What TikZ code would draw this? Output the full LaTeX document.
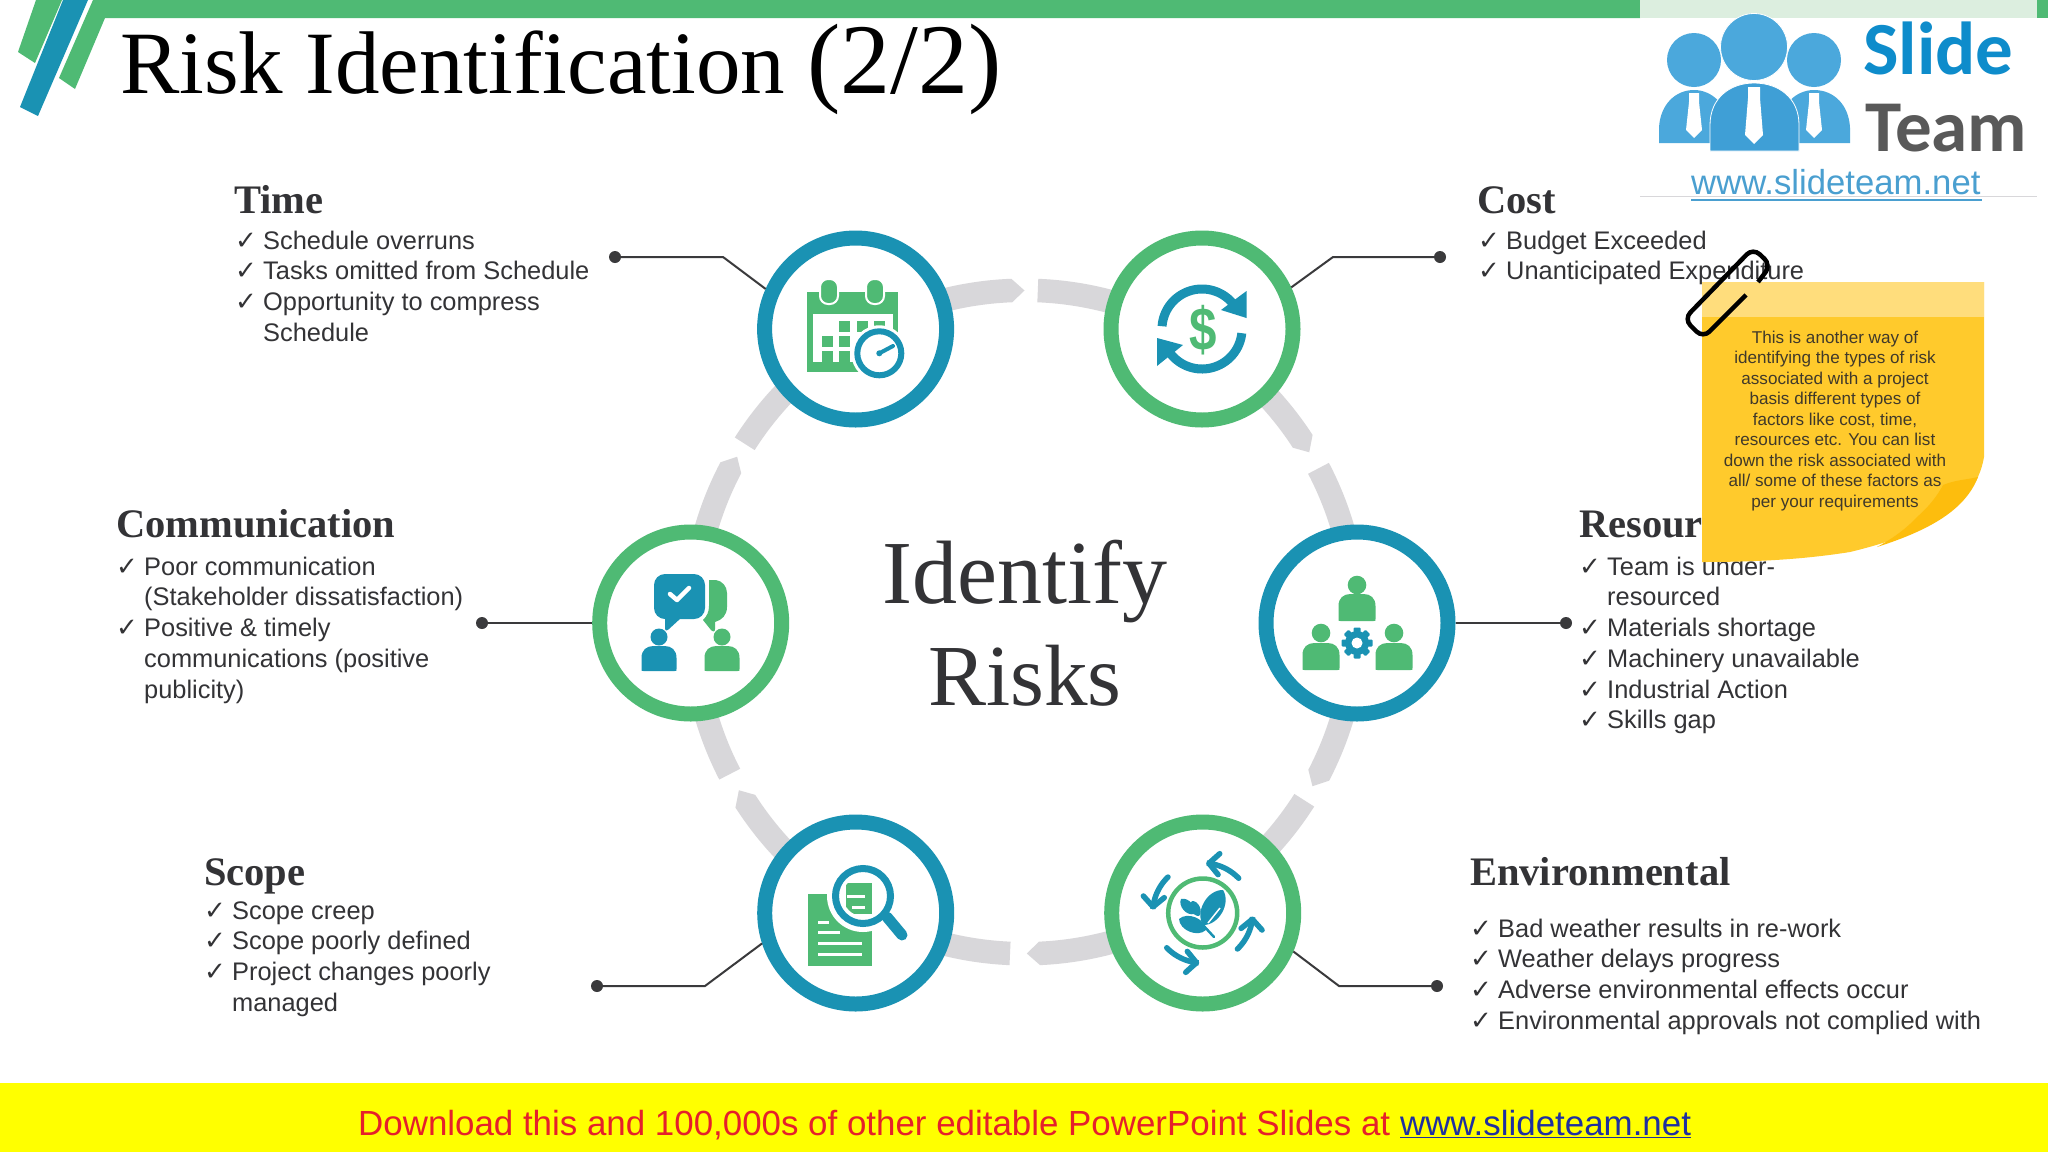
\documentclass[tikz,border=0pt]{standalone}
\usepackage{fontspec}
\setmainfont{Liberation Sans}
\newfontfamily\ser{Liberation Serif}
\newfontfamily\ckf{DejaVu Sans}
\newfontfamily\logof{Carlito}
\usetikzlibrary{arrows.meta,calc}
\definecolor{grn}{HTML}{4FBA74}
\definecolor{tea}{HTML}{1A92B3}
\definecolor{gry}{HTML}{D8D7DA}
\definecolor{txt}{HTML}{333336}
\definecolor{lnk}{HTML}{3A3A3C}
\definecolor{stk}{HTML}{FFCA2C}
\definecolor{stkl}{HTML}{FFDD7C}
\definecolor{stkd}{HTML}{FDBD0D}
\definecolor{stxt}{HTML}{40392A}
\definecolor{pale}{HTML}{DCEEDF}
\definecolor{lgb}{HTML}{4BA8DC}
\definecolor{lgc}{HTML}{3F9FD6}
\definecolor{lgu}{HTML}{4A9FD0}
\definecolor{lgs}{HTML}{0E8CCB}
\definecolor{ylw}{HTML}{FFFF00}
\definecolor{rdt}{HTML}{E5202B}
\definecolor{blt}{HTML}{1F2FA0}
\newcommand{\ck}{\makebox[28pt][l]{\rule{0pt}{22pt}{\ckf\fontsize{26}{26}\selectfont ✓}}}
\newcommand{\ind}{\hspace*{28pt}}
\newcommand{\arcplot}[5]{plot[domain=#4:#5,samples=60]({#1+#3*cos(\x)},{#2-#3*sin(\x)})}
% ring segment: flat start angle, tip angle
\newcommand{\ringseg}[2]{\pgfmathsetmacro{\shd}{#2+2.2}\fill[gry] plot[domain=#1:\shd,samples=60]({1024.5+343.5*cos(\x)},{622-343.5*sin(\x)}) -- ({1024.5+331.5*cos(#2)},{622-331.5*sin(#2)}) -- plot[domain=\shd:#1,samples=60]({1024.5+320*cos(\x)},{622-320*sin(\x)}) -- cycle;}
% person: centre x, head y, head r, body top, body bottom, half width, colour
\newcommand{\person}[7]{\fill[#7] (#1,#2) circle[radius=#3];
  \fill[#7] ({#1-#6+2},#5) .. controls ({#1-#6},#5) and ({#1-#6},#5) .. ({#1-#6},{#5-2}) -- ({#1-#6},{#4+12}) .. controls ({#1-#6},{#4+4}) and ({#1-#6+5},#4) .. ({#1-#6+12},#4) -- ({#1+#6-12},#4) .. controls ({#1+#6-5},#4) and ({#1+#6},{#4+4}) .. ({#1+#6},{#4+12}) -- ({#1+#6},{#5-2}) .. controls ({#1+#6},#5) and ({#1+#6},#5) .. ({#1+#6-2},#5) -- cycle;}
\newcommand{\leaflet}[3]{(#1) to[bend left=#3] (#2) to[bend left=#3] (#1)}
\tikzset{
  ringgrn/.style={circle,fill=white,draw=grn,line width=15pt,minimum size=182pt,inner sep=0pt,outer sep=7.5pt},
  ringtea/.style={circle,fill=white,draw=tea,line width=15pt,minimum size=182pt,inner sep=0pt,outer sep=7.5pt},
  hdg/.style={anchor=base west,inner sep=0pt,text=txt,font=\ser\bfseries\fontsize{40.5}{40.5}\selectfont},
  lst/.style={anchor=north west,inner sep=0pt,align=left,text=txt,font=\fontsize{25.4}{30.7}\selectfont},
  bigser/.style={anchor=base,inner sep=0pt,text=txt,font=\ser\fontsize{90}{90}\selectfont},
  dotn/.style={circle,fill=lnk,minimum size=12pt,inner sep=0pt,outer sep=0pt},
  conn/.style={draw=lnk,line width=2pt},
  notetxt/.style={anchor=north,inner sep=0pt,align=center,text=stxt,font=\fontsize{17.1}{20.5}\selectfont},
  logot/.style={anchor=base west,inner sep=0pt,font=\logof\bfseries\fontsize{73}{73}\selectfont},
}
\begin{document}
\begin{tikzpicture}[x=1pt,y=-1pt]
\path[use as bounding box] (0,0) rectangle (2048,1152);
\fill[white] (0,0) rectangle (2048,1152);
% header decoration
\fill[grn] (93,0) -- (59,78) -- (75,89) -- (105,18) -- (1640,18) -- (1640,0) -- cycle;
\fill[pale] (1640,0) rectangle (2037,18);
\fill[grn] (2037,0) rectangle (2048,18);
\fill[grn] (36,0) -- (62,0) -- (35,63) -- (18,52) -- cycle;
\fill[tea] (63,0) -- (88,0) -- (38,116) -- (20,107) -- cycle;
\node[anchor=base west,inner sep=0pt,text=black,font=\ser\fontsize{89}{89}\selectfont] (title) at (120,93) {Risk Identification {\fontsize{100}{100}\selectfont (2/2)}};
% logo
\draw[gry,line width=1pt] (1640,196) -- (2037,196);
\fill[lgb] (1694,60) circle[radius=27];
\fill[lgb] (1814,60) circle[radius=27];
\fill[lgb] (1659,143) -- (1659,128) .. controls (1660,105) and (1675,90) .. (1694,90) .. controls (1712,90) and (1728,105) .. (1730,128) -- (1730,143) -- cycle;
\fill[lgb] (1850,143) -- (1850,128) .. controls (1849,105) and (1834,90) .. (1814,90) .. controls (1796,90) and (1780,105) .. (1778,128) -- (1778,143) -- cycle;
\fill[lgb,draw=white,line width=.8pt] (1754,47) circle[radius=33.5];
\fill[lgc,draw=white,line width=.8pt] (1710,151) -- (1710,125) .. controls (1710,98) and (1730,83) .. (1754,83) .. controls (1779,83) and (1799,98) .. (1799,125) -- (1799,151) -- cycle;
\fill[white] (1748,87) -- (1760,87) -- (1760,98) -- (1763,135) -- (1754,144) -- (1745,135) -- (1748,98) -- cycle;
\fill[white] (1689,93) -- (1699,93) -- (1699,102) -- (1702,130) -- (1694,138) -- (1686,130) -- (1689,102) -- cycle;
\fill[white] (1809,93) -- (1819,93) -- (1819,102) -- (1822,130) -- (1814,138) -- (1806,130) -- (1809,102) -- cycle;
\node[logot,text=lgs,font=\logof\bfseries\fontsize{75}{75}\selectfont] (slide) at (1863,74) {Slide};
\node[logot,text=black!65] (team) at (1865,151) {Team};
\node[anchor=base west,inner sep=0pt,text=lgu,font=\fontsize{34.7}{34.7}\selectfont] (url) at (1691,194) {www.slideteam.net};
\draw[lgu,line width=2.4pt] (1691,200) -- (1982,200);
% ring
\ringseg{87.7}{30.8}
\ringseg{27.6}{-29.7}
\ringseg{-32.5}{-89.6}
\ringseg{-92.5}{-149.5}
\ringseg{-152.7}{-209.9}
\ringseg{147.5}{90}
% circles
\node[ringtea] (ctime) at (855.6,329) {};
\node[ringgrn] (ccost) at (1202,329) {};
\node[ringgrn] (ccomm) at (690.7,623) {};
\node[ringtea] (cres) at (1357,623) {};
\node[ringtea] (cscope) at (855.7,913) {};
\node[ringgrn] (cenv) at (1202.7,913) {};
% connectors
\node[dotn] (dtime) at (615,257) {};
\node[dotn] (dcost) at (1440,257) {};
\node[dotn] (dcomm) at (482,623) {};
\node[dotn] (dres) at (1566,623) {};
\node[dotn] (dscope) at (597,986) {};
\node[dotn] (denv) at (1437,986) {};
\coordinate (ktime) at (723,257);
\coordinate (kcost) at (1333,257);
\coordinate (kscope) at (705,986);
\coordinate (kenv) at (1339,986);
\draw[conn] (dtime) -- (ktime) -- (ctime.156);
\draw[conn] (dcost) -- (kcost) -- (ccost.25);
\draw[conn] (dcomm) -- (ccomm);
\draw[conn] (dres) -- (cres);
\draw[conn] (dscope) -- (kscope) -- (cscope.198);
\draw[conn] (denv) -- (kenv) -- (cenv.-23);
% centre
\node[bigser] (id1) at (1025,603) {Identify};
\node[bigser,font=\ser\fontsize{87}{87}\selectfont] (id2) at (1025,705) {Risks};
% texts
\node[hdg] (htime) at (234,213) {Time};
\node[lst] (ltime) at (235,227) {\ck Schedule overruns\\\ck Tasks omitted from Schedule\\\ck Opportunity to compress\\\ind Schedule};
\node[hdg] (hcost) at (1477,213) {Cost};
\node[lst] (lcost) at (1478,227) {\ck Budget Exceeded\\\ck Unanticipated Expenditure};
\node[hdg] (hcomm) at (116,537) {Communication};
\node[lst] (lcomm) at (116,553) {\ck Poor communication\\\ind (Stakeholder dissatisfaction)\\\ck Positive \& timely\\\ind communications (positive\\\ind publicity)};
\node[hdg] (hres) at (1579,537) {Resources};
\node[lst] (lres) at (1579,553) {\ck Team is under-\\\ind resourced\\\ck Materials shortage\\\ck Machinery unavailable\\\ck Industrial Action\\\ck Skills gap};
\node[hdg] (hscope) at (204,885) {Scope};
\node[lst] (lscope) at (204,897) {\ck Scope creep\\\ck Scope poorly defined\\\ck Project changes poorly\\\ind managed};
\node[hdg] (henv) at (1470,885) {Environmental};
\node[lst] (lenv) at (1470,915) {\ck Bad weather results in re-work\\\ck Weather delays progress\\\ck Adverse environmental effects occur\\\ck Environmental approvals not complied with};
% sticky note
\fill[stk] (1702,282) -- (1984,282) -- (1984,457) .. controls (1975,510) and (1920,535) .. (1850,552) .. controls (1800,560) and (1750,562) .. (1702,562) -- cycle;
\fill[stkd] (1978,477) .. controls (1965,480) and (1955,480) .. (1943,485) .. controls (1935,500) and (1925,510) .. (1917,517) .. controls (1905,530) and (1890,540) .. (1877,547) .. controls (1930,530) and (1965,510) .. (1978,477) -- cycle;
\fill[stkl] (1702,282) rectangle (1984,317);
\node[notetxt] (note) at (1835,329) {\rule{0pt}{14pt}This is another way of\\identifying the types of risk\\associated with a project\\basis different types of\\factors like cost, time,\\resources etc. You can list\\down the risk associated with\\all/ some of these factors as\\per your requirements};
% paper clip
\draw[black,line width=4.5pt,rounded corners=9pt] (1746,295) -- (1703,338) -- (1684,319) -- (1753,248) -- (1771,265) -- (1758,282);
% calendar icon
\fill[grn] (807,292) rectangle (898,372);
\fill[white] (813,314) rectangle (893,362);
\foreach \cxx in {829,875}{\fill[grn,draw=white,line width=2pt,rounded corners=8pt] ({\cxx-9},279) rectangle ({\cxx+9},304);}
\foreach \gx/\gy in {839/321,857/321,874/321,822/336,839/336,822/351,839/351}{\fill[grn] (\gx,\gy) rectangle ++(10.5,10.5);}
\fill[white] (879.3,353.3) circle[radius=28];
\draw[tea,line width=6pt,fill=white] (879.3,353.3) circle[radius=22];
\draw[tea,line width=4pt,line cap=round] (879.3,353.3) -- (893,346);
\fill[tea] (879.3,353.3) circle[radius=3];
% dollar icon
\draw[tea,line width=9pt] \arcplot{1202}{329}{40}{176}{38};
\draw[tea,line width=9pt] \arcplot{1202}{329}{40}{-6}{-146};
\fill[tea] (1246.5,291) -- (1246.5,318) -- (1221,310) -- cycle;
\fill[tea] (1157,338) -- (1157,366) -- (1183,345) -- cycle;
\node[inner sep=0pt,text=grn,font=\bfseries\fontsize{58}{58}\selectfont] (dollar) at (1203,330) {\scalebox{.85}[1.05]{\$}};
% communication icon
\fill[grn] (709,580) -- (716,580) .. controls (722,581) and (727,586) .. (727,593) -- (727,607) .. controls (727,615) and (722,620) .. (715,622) -- (715,629) .. controls (715,632) and (713,632) .. (711,630) -- (703,620) .. controls (707,616) and (709,612) .. (709,606) -- cycle;
\fill[tea,rounded corners=11pt] (654,574) rectangle (705,619);
\fill[tea] (665,615) -- (665,628) .. controls (665,631) and (667,631) .. (669,629) -- (681,618) -- cycle;
\draw[white,line width=4.5pt,line cap=round,line join=round] (670,594) -- (677,600) -- (689,588);
\person{659}{637}{8.5}{646}{671}{17.5}{tea}
\person{722}{637}{8.5}{646}{671}{17.5}{grn}
% resources icon
\person{1357}{585}{9.3}{594}{621}{18.5}{grn}
\person{1321}{633}{9.3}{643}{670}{18.5}{grn}
\person{1394}{633}{9.3}{643}{670}{18.5}{grn}
\fill[tea] (1357,643) circle[radius=12];
\foreach \rr in {0,45,90,135}{\fill[tea,shift={(1357,643)},rotate=\rr,rounded corners=1pt] (-3.5,-15.5) rectangle (3.5,15.5);}
\fill[white] (1357,643) circle[radius=5.5];
% scope icon
\fill[grn] (808,894) rectangle (872,966);
\fill[white] (863,896) circle[radius=36];
\begin{scope}
\clip (863,896) circle[radius=20];
\fill[grn] (846,883) rectangle (872,914);
\end{scope}
\foreach \xa/\xb/\yy in {818/829/922,818/840/932,818/862/943,818/862/954,847/865/896,852/865/907}{\draw[white,line width=3pt] (\xa,\yy) -- (\xb,\yy);}
\draw[tea,line width=11pt,line cap=round] (887,917) -- (902,935);
\draw[tea,line width=7pt,fill=none] (863,896) circle[radius=27.5];
% environment icon
\draw[grn,line width=4.5pt] (1202.7,913) circle[radius=34.5];
\foreach \aa/\ab in {44/86,134/176,224/266,314/356}{\draw[tea,line width=5.5pt,line cap=round,-{Straight Barb[length=10pt,width=21pt,round]}] \arcplot{1202.7}{913}{50}{\aa}{\ab};}
\fill[tea] \leaflet{1223,890}{1203,925}{62};
\draw[white,line width=1.5pt] (1208,923) -- (1220,908);
\draw[tea,line width=2.5pt,line cap=round] (1202,924) -- (1214,937);
\fill[tea] \leaflet{1179,919}{1206,930}{65};
\fill[tea] \leaflet{1181,899}{1194,914}{65};
\fill[tea] \leaflet{1192,901}{1199,916}{70};
% bottom bar
\fill[ylw] (0,1083) rectangle (2048,1152);
\node[anchor=base west,inner sep=0pt,font=\fontsize{34.9}{34.9}\selectfont] (promo) at (358,1135) {\textcolor{rdt}{Download this and 100,000s of other editable PowerPoint Slides at }\textcolor{blt}{\underline{www.slideteam.net}}};
\end{tikzpicture}
\end{document}
